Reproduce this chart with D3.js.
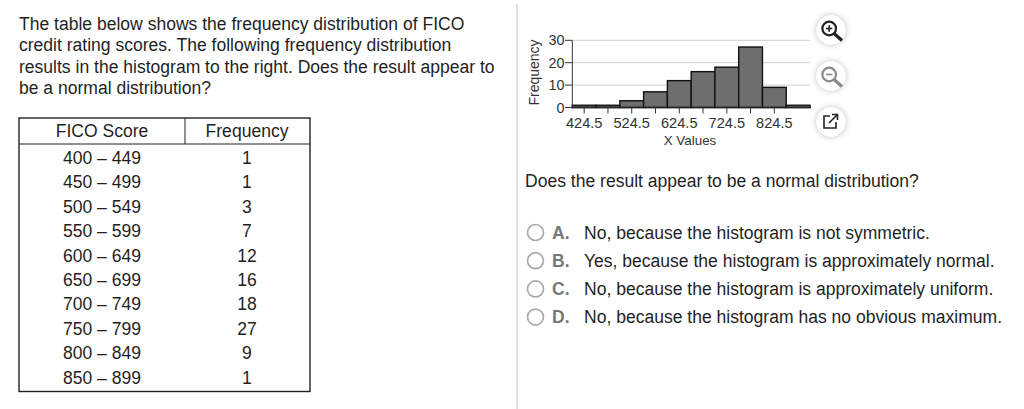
<!DOCTYPE html>
<html><head><meta charset="utf-8">
<script src="https://cdn.jsdelivr.net/npm/d3@7/dist/d3.min.js"></script>
<style>html,body{margin:0;padding:0;background:#fff;overflow:hidden}svg{display:block}text{font-family:"Liberation Sans",Arial,sans-serif}</style>
</head><body><svg id="c" width="1024" height="409"></svg>
<script>
const classes=["400 – 449","450 – 499","500 – 549","550 – 599","600 – 649","650 – 699","700 – 749","750 – 799","800 – 849","850 – 899"];
const frequencies=[1,1,3,7,12,16,18,27,9,1];
const binStarts=[399.5,449.5,499.5,549.5,599.5,649.5,699.5,749.5,799.5,849.5];
const binWidth=50;
const xTicks=[424.5,474.5,524.5,574.5,624.5,674.5,724.5,774.5,824.5];
const xLabels=[424.5,524.5,624.5,724.5,824.5];
const yTicks=[0,10,20,30];
const question=["The table below shows the frequency distribution of FICO","credit rating scores. The following frequency distribution","results in the histogram to the right. Does the result appear to","be a normal distribution?"];
const prompt="Does the result appear to be a normal distribution?";
const optionLetters=["A.","B.","C.","D."];
const optionTexts=["No, because the histogram is not symmetric.","Yes, because the histogram is approximately normal.","No, because the histogram is approximately uniform.","No, because the histogram has no obvious maximum."];
const svg=d3.select("#c");
const ink="#1f1f1f";
const fs=17.55;
svg.append("g").selectAll("text").data(question).join("text").attr("x",19).attr("y",(d,i)=>29.7+i*21.4).attr("font-size",fs).attr("fill",ink).text(d=>d);
const tx=[19,185,310],ty0=118,rowH=24.4,rowTop=144.5;
const t=svg.append("g");
const tBottom=rowTop+rowH*10+3;
t.append("rect").attr("x",tx[0]).attr("y",ty0).attr("width",tx[2]-tx[0]).attr("height",tBottom-ty0).attr("fill","none").attr("stroke","#222").attr("stroke-width",1.4);
t.append("line").attr("x1",tx[0]).attr("x2",tx[2]).attr("y1",ty0+26).attr("y2",ty0+26).attr("stroke","#222");
t.append("line").attr("x1",tx[1]).attr("x2",tx[1]).attr("y1",ty0).attr("y2",ty0+26).attr("stroke","#222");
t.append("text").attr("x",102).attr("y",137).attr("text-anchor","middle").attr("font-size",fs).attr("fill",ink).text("FICO Score");
t.append("text").attr("x",247).attr("y",137).attr("text-anchor","middle").attr("font-size",fs).attr("fill",ink).text("Frequency");
classes.forEach((c,i)=>{
 const y=164+i*24.4;
 t.append("text").attr("x",102).attr("y",y).attr("text-anchor","middle").attr("font-size",fs).attr("fill",ink).text(c);
 t.append("text").attr("x",247).attr("y",y).attr("text-anchor","middle").attr("font-size",fs).attr("fill",ink).text(frequencies[i]);
});
svg.append("line").attr("x1",517).attr("x2",517).attr("y1",4).attr("y2",409).attr("stroke","#d4d4d4").attr("stroke-width",1.5);
const x=d3.scaleLinear().domain([399.5,899.5]).range([572.3,810]);
const y=d3.scaleLinear().domain([0,30]).range([107.5,40.3]);
const h=svg.append("g");
h.selectAll("line.g").data(yTicks.slice(1)).join("line").attr("x1",572).attr("x2",810).attr("y1",d=>y(d)).attr("y2",d=>y(d)).attr("stroke","#cfcfcf").attr("stroke-width",1);
h.selectAll("rect").data(frequencies).join("rect").attr("x",(d,i)=>x(binStarts[i])).attr("width",(d,i)=>x(binStarts[i]+binWidth)-x(binStarts[i])).attr("y",d=>y(d)).attr("height",d=>y(0)-y(d)).attr("fill","#6e6e6e").attr("stroke","#111").attr("stroke-width",1.4);
h.append("line").attr("x1",571).attr("x2",811).attr("y1",y(0)).attr("y2",y(0)).attr("stroke","#222").attr("stroke-width",1.4);
h.append("line").attr("x1",572.3).attr("x2",572.3).attr("y1",y(30)).attr("y2",y(0)).attr("stroke","#333").attr("stroke-width",1);
h.selectAll("line.yt").data(yTicks).join("line").attr("class","yt").attr("x1",565).attr("x2",572).attr("y1",d=>y(d)).attr("y2",d=>y(d)).attr("stroke","#333");
h.selectAll("line.xt").data(xTicks).join("line").attr("class","xt").attr("x1",d=>x(d)).attr("x2",d=>x(d)).attr("y1",y(0)).attr("y2",y(0)+6).attr("stroke","#333");
h.selectAll("text.yl").data(yTicks).join("text").attr("class","yl").attr("x",564.5).attr("y",d=>y(d)+5).attr("text-anchor","end").attr("font-size",14.4).attr("fill","#333").text(d=>d);
h.selectAll("text.xl").data(xLabels).join("text").attr("class","xl").attr("x",d=>x(d)).attr("y",127.5).attr("text-anchor","middle").attr("font-size",14.6).attr("fill","#333").text(d=>d.toFixed(1));
h.append("text").attr("x",690).attr("y",145).attr("text-anchor","middle").attr("font-size",13.4).attr("fill","#333").text("X Values");
h.append("text").attr("transform","translate(538.5,72.5) rotate(-90)").attr("text-anchor","middle").attr("font-size",14).attr("fill","#333").text("Frequency");
const defs=svg.append("defs");
const f=defs.append("filter").attr("id","s").attr("x","-40%").attr("y","-40%").attr("width","180%").attr("height","180%");
f.append("feDropShadow").attr("dx",0).attr("dy",0).attr("stdDeviation",3).attr("flood-color","#000").attr("flood-opacity",0.28);
function mag(cy,col,plus){
 const g=svg.append("g").attr("transform",`translate(831,${cy})`);
 g.append("circle").attr("r",14.5).attr("fill","#fff").attr("filter","url(#s)");
 g.append("circle").attr("cx",-1.8).attr("cy",-1.5).attr("r",6.8).attr("fill","none").attr("stroke",col).attr("stroke-width",2.2);
 g.append("line").attr("x1",3).attr("y1",3.5).attr("x2",11).attr("y2",10.5).attr("stroke",col).attr("stroke-width",3.2);
 g.append("line").attr("x1",-5).attr("x2",1.4).attr("y1",-1.5).attr("y2",-1.5).attr("stroke",col).attr("stroke-width",1.6);
 if(plus)g.append("line").attr("x1",-1.8).attr("x2",-1.8).attr("y1",-4.7).attr("y2",1.7).attr("stroke",col).attr("stroke-width",1.6);
}
mag(30,"#222",true);mag(76,"#8a8a8a",false);
const eg=svg.append("g").attr("transform","translate(831,122)");
eg.append("circle").attr("r",14.5).attr("fill","#fff").attr("filter","url(#s)");
eg.append("path").attr("d","M-1,-6H-7V6H5V0").attr("fill","none").attr("stroke","#222").attr("stroke-width",1.6);
eg.append("path").attr("d","M-2,1L6,-7M1,-7.5H6.5V-2").attr("fill","none").attr("stroke","#222").attr("stroke-width",1.6);
svg.append("text").attr("x",525).attr("y",187).attr("font-size",fs).attr("fill",ink).text(prompt);
optionTexts.forEach((o,i)=>{
 const cy=232.5+i*28.2;
 svg.append("circle").attr("cx",535.5).attr("cy",cy).attr("r",8).attr("fill","#fff").attr("stroke","#a9a9a9").attr("stroke-width",1.7);
 svg.append("text").attr("x",552).attr("y",cy+6).attr("font-size",fs).attr("font-weight","bold").attr("fill","#777").text(optionLetters[i]);
 svg.append("text").attr("x",584).attr("y",cy+6).attr("font-size",fs).attr("fill",ink).text(o);
});
</script></body></html>
